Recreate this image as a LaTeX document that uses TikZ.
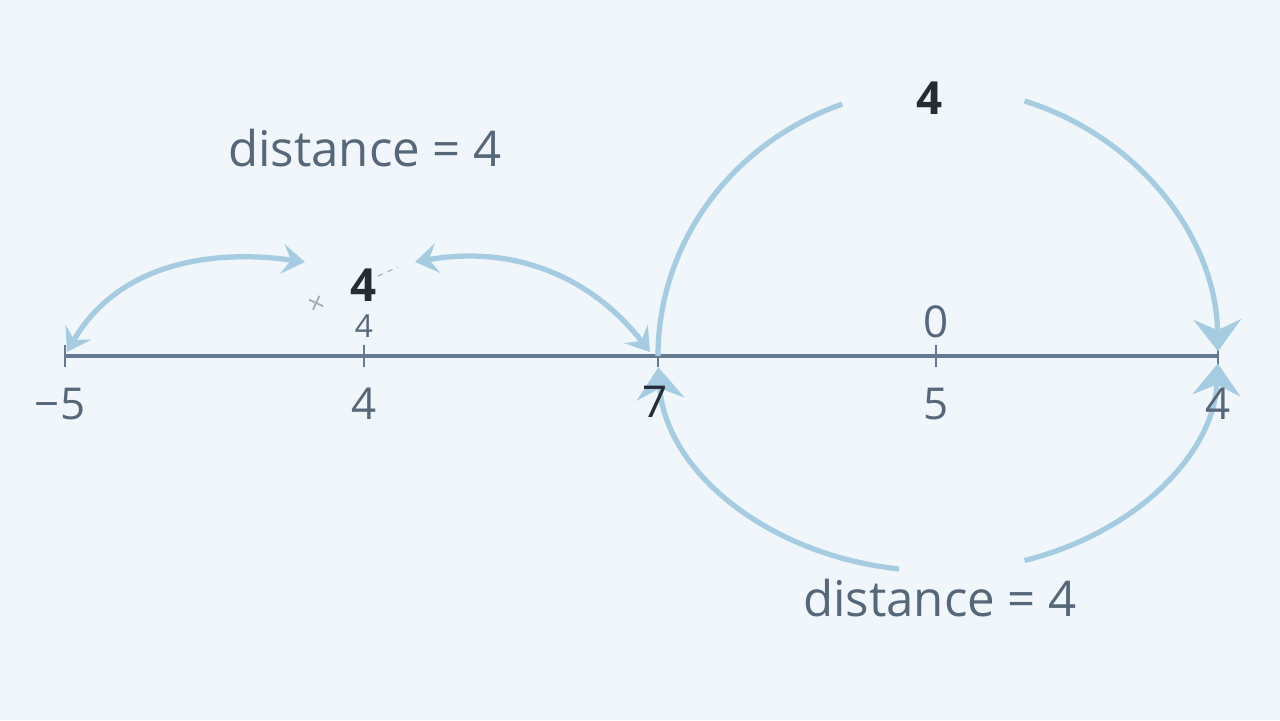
\documentclass[tikz,border=0pt]{standalone}
\usepackage{fontspec}
\setmainfont{Open Sans}
\usetikzlibrary{arrows.meta, positioning}

\definecolor{bgfill}{HTML}{F1F6FA}
\definecolor{axisgray}{HTML}{637A90}
\definecolor{hopblue}{HTML}{A6CCE2}
\definecolor{labgray}{HTML}{56677A}
\definecolor{inkdark}{HTML}{262C33}
\definecolor{faintgray}{HTML}{A4ACB4}

\begin{document}
\begin{tikzpicture}[
	x=0.02cm, y=0.02cm,
	every node/.style={inner sep=0pt, text=labgray, font=\fontsize{25}{30}\selectfont},
	axis/.style={draw=axisgray, line width=2.7pt},
	tickmark/.style={draw=axisgray, line width=1.2pt},
	hop/.style={draw=hopblue, line width=3pt},
	smalltips/.style={hop, {Stealth[length=13pt, width=17pt, inset=5pt]}-{Stealth[length=13pt, width=17pt, inset=5pt]}},
	bigtip/.style={hop, -{Stealth[length=18pt, width=27pt, inset=6pt]}},
	ticklabel/.style={font=\fontsize{25}{30}\selectfont},
	biglabel/.style={text=inkdark, font=\fontsize{26}{30}\selectfont\bfseries},
	distlabel/.style={font=\fontsize{28}{32}\selectfont}
	]
	
	% Background
	\fill[bgfill] (0,0) rectangle (1280,720);
	
	% Ticks on the line
	\coordinate (t1) at (65,364);
	\coordinate (t2) at (364,364);
	\coordinate (t3) at (658,364);
	\coordinate (t4) at (936,364);
	\coordinate (t5) at (1218,364);
	
	\draw[axis] (t1) -- (t5);
	\foreach \t in {t1,t2,t3,t4,t5}
		\draw[tickmark] (\t) ++(0,11) -- ++(0,-22);
	
	% Small hops on the left
	\coordinate (la1) at (305,458);
	\coordinate (la2) at (67,368);
	\coordinate (ma1) at (415,458);
	\coordinate (ma2) at (650,368);
	\draw[smalltips] (la2) to[out=60, in=172] (la1);
	\draw[smalltips] (ma1) to[out=10, in=128] (ma2);
	
	% Faint dash next to the bold 4
	\coordinate (fd1) at (378,444);
	\coordinate (fd2) at (398,453);
	\draw[faintgray, line width=0.6pt, dashed] (fd1) -- (fd2);
	
	% Big hops on the right
	\coordinate (ta2) at (1024.5,619);
	\coordinate (ba1) at (899,151);
	\coordinate (ba2) at (1024.5,159.5);
	\draw[hop] (t3) arc[start angle=180, end angle=110, x radius=280, y radius=268];
	\draw[bigtip] (ta2) arc[start angle=72, end angle=1, x radius=280, y radius=268];
	\draw[bigtip] (ba1) arc[start angle=262, end angle=183, x radius=280, y radius=215];
	\draw[bigtip] (ba2) arc[start angle=288, end angle=358, x radius=280, y radius=215];
	
	% Labels
	\node[ticklabel, below=0.64cm of t1, xshift=-0.1cm] (l1) {−5};
	\node[ticklabel, below=0.64cm of t2] (l2) {4};
	\node[ticklabel, below=0.6cm of t3, xshift=-0.06cm, text=inkdark] (l3) {7};
	\node[ticklabel, below=0.64cm of t4] (l4) {5};
	\node[ticklabel, below=0.64cm of t5] (l5) {4};
	\node[font=\fontsize{18}{20}\selectfont, above=0.36cm of t2] (u2) {4};
	\node[ticklabel, above=0.36cm of t4] (u4) {0};
	\node[biglabel, above=0.26cm of u2] (mid4) {4};
	\node[biglabel] (top4) at (930,622) {4};
	\node[distlabel] (dleft) at (365,572) {distance = 4};
	\node[distlabel] (dright) at (940,122) {distance = 4};
	\node[text=faintgray, font=\fontsize{16}{18}\selectfont, rotate=20] (cross) at (317,415) {×};
	
\end{tikzpicture}
\end{document}
